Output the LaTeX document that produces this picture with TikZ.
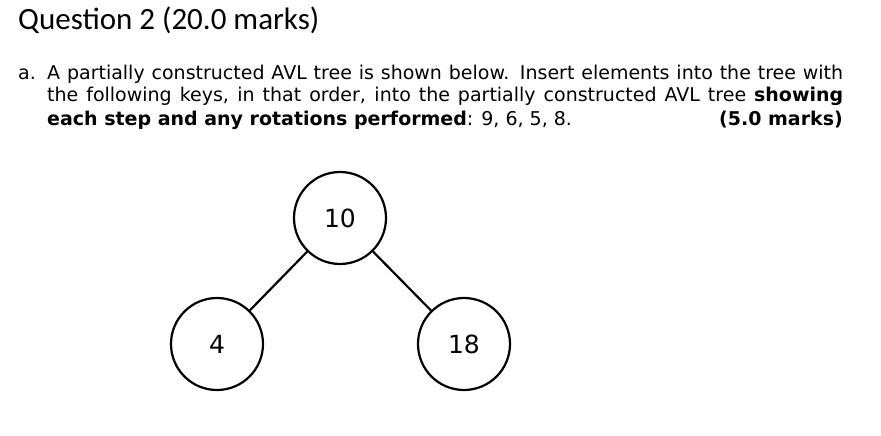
\documentclass[tikz,border=0pt]{standalone}
\usepackage{fontspec}
\setmainfont{DejaVu Sans}
\newfontfamily\titlefont{Carlito}
\begin{document}
\begin{tikzpicture}[x=1pt,y=-1pt,
  body/.style={anchor=base west,inner sep=0pt,font=\fontsize{19}{22}\selectfont},
  vertex/.style={circle,draw,line width=2.2pt,minimum size=92pt,inner sep=0pt,font=\fontsize{25}{28}\selectfont},
  edge/.style={line width=2.2pt}]
\useasboundingbox (0,0) rectangle (881,436);
\node[anchor=base west,inner sep=0pt,font=\titlefont\fontsize{31}{34}\selectfont] (title) at (18,30) {Question 2 (20.0 marks)};
\node[body] (a) at (18,80) {a.};
\node[body] (l1) at (47,80) {\makebox[796pt][s]{A partially constructed AVL tree is shown below. Insert elements into the tree with}};
\node[body] (l2) at (47,102) {\makebox[796pt][s]{the following keys, in that order, into the partially constructed AVL tree \textbf{showing}}};
\node[body] (l3) at (47,125) {\textbf{each step and any rotations performed}: 9, 6, 5, 8.};
\node[body,anchor=base east] (l4) at (843,125) {\textbf{(5.0 marks)}};
\node[vertex] (n10) at (340,218) {10};
\node[vertex] (n4) at (217,344) {4};
\node[vertex] (n18) at (464,344) {18};
\draw[edge] (n10) -- (n4);
\draw[edge] (n10) -- (n18);
\end{tikzpicture}
\end{document}
